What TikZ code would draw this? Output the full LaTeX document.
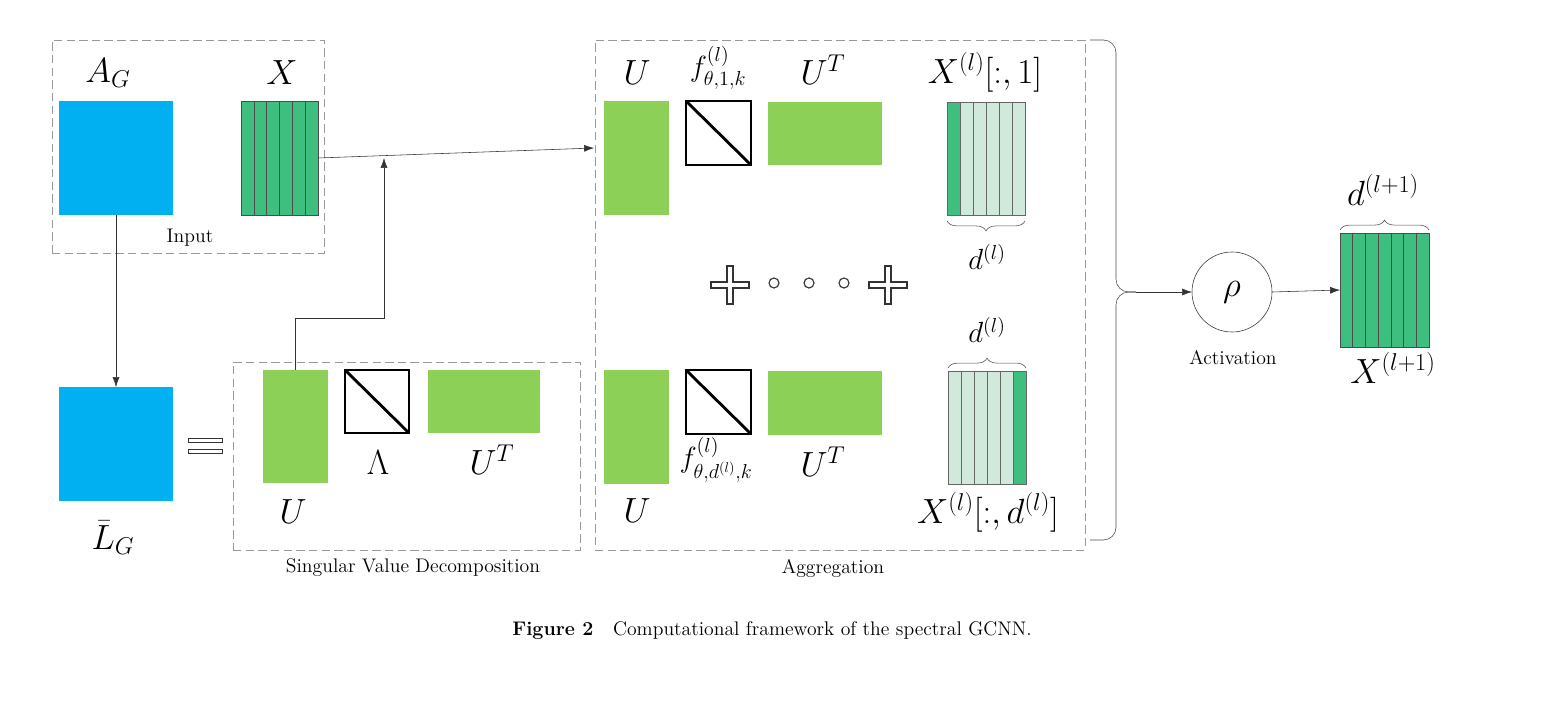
\documentclass[tikz,border=0pt]{standalone}
\usepackage{amsmath}
\usetikzlibrary{decorations.pathreplacing,calc,arrows.meta}
\definecolor{cblue}{HTML}{00B0F0}
\definecolor{cgreen}{HTML}{8DD058}
\definecolor{dgreen}{HTML}{3FBF7F}
\definecolor{lgreen}{HTML}{D0E9DA}
\begin{document}
\begin{tikzpicture}[x=0.025cm,y=-0.025cm,
  box/.style={draw=gray!80,dashed,dash pattern=on 6pt off 3pt,thin},
  blk/.style={inner sep=0,outer sep=0},
  ml/.style={font=\fontsize{27}{30}\selectfont},
  sl/.style={font=\fontsize{20}{23}\selectfont},
  tl/.style={font=\fontsize{14}{16}\selectfont},
  arr/.style={-{Latex[length=7pt,width=5pt]},draw=black!80,thin},
  brace/.style={decorate,decoration={brace,amplitude=7pt},draw=black!70,thin}]
\useasboundingbox (0,0) rectangle (1545,702);
% Input box
\node[box,blk,minimum width=272*0.025cm,minimum height=213*0.025cm,anchor=north west] (inbox) at (52,40) {};
\node[blk,fill=cblue,minimum width=114*0.025cm,minimum height=114*0.025cm,anchor=north west] (AG) at (59,101) {};
\node[ml] (AGl) at (108,73) {$A_G$};
\node[ml] (Xl) at (282,73) {$X$};
\node[blk,fill=dgreen,draw=black!70,minimum width=77*0.025cm,minimum height=114*0.025cm,anchor=north west] (X) at (241,101) {};
\foreach \i in {1,...,5} \draw[black!70] ($(X.north west)!\i/6!(X.north east)$) -- ($(X.south west)!\i/6!(X.south east)$);
\node[tl] (inl) at (190,238) {Input};
% L_G
\node[blk,fill=cblue,minimum width=114*0.025cm,minimum height=114*0.025cm,anchor=north west] (LG) at (59,387) {};
\node[ml] (LGl) at (113,538) {$\bar{L}_G$};
\draw[arr] (AG.south) -- (LG.north);
\node[blk,draw=black!80,minimum width=34*0.025cm,minimum height=4*0.025cm] (eq1) at (205,440) {};
\node[blk,draw=black!80,minimum width=34*0.025cm,minimum height=4*0.025cm] (eq2) at (205,451) {};
% SVD
\node[box,blk,minimum width=347*0.025cm,minimum height=188*0.025cm,anchor=north west] (svdbox) at (233,362) {};
\node[blk,fill=cgreen,minimum width=65*0.025cm,minimum height=113*0.025cm,anchor=north west] (sU) at (263,370) {};
\node[blk,draw=black,thick,minimum width=64*0.025cm,minimum height=63*0.025cm,anchor=north west] (sL) at (345,370) {};
\draw[line width=2pt] (sL.north west) -- (sL.south east);
\node[blk,fill=cgreen,minimum width=112*0.025cm,minimum height=63*0.025cm,anchor=north west] (sUT) at (428,370) {};
\node[ml] at (378,463) {$\Lambda$};
\node[ml] at (492,460) {$U^T$};
\node[ml] at (293,512) {$U$};
\node[tl] at (413,568) {Singular Value Decomposition};
% Aggregation
\node[box,blk,minimum width=490*0.025cm,minimum height=510*0.025cm,anchor=north west] (agbox) at (595,40) {};
\node[tl] at (833,568) {Aggregation};
\coordinate (aIn) at (594,148);
\draw[arr] (X.east) -- (aIn);
\coordinate (up) at (384,158);
\draw[arr] (sU.north) |- (384,318) -- (up);
% top row
\node[blk,fill=cgreen,minimum width=65*0.025cm,minimum height=114*0.025cm,anchor=north west] (tU) at (604,101) {};
\node[blk,draw=black,thick,minimum width=65*0.025cm,minimum height=64*0.025cm,anchor=north west] (tF) at (686,101) {};
\draw[line width=2pt] (tF.north west) -- (tF.south east);
\node[blk,fill=cgreen,minimum width=114*0.025cm,minimum height=63*0.025cm,anchor=north west] (tUT) at (768,102) {};
\node[blk,fill=lgreen,draw=black!60,minimum width=78*0.025cm,minimum height=113*0.025cm,anchor=north west] (tX) at (947,102) {};
\fill[dgreen] (tX.north west) rectangle ($(tX.south west)!1/6!(tX.south east)$);
\foreach \i in {1,...,5} \draw[black!60] ($(tX.north west)!\i/6!(tX.north east)$) -- ($(tX.south west)!\i/6!(tX.south east)$);
\draw[black!60] (tX.north west) rectangle (tX.south east);
\node[ml] at (637,73) {$U$};
\node[sl] at (718,68) {$f^{(l)}_{\theta,1,k}$};
\node[ml] at (823,70) {$U^T$};
\node[ml] at (985,72) {$X^{(l)}[:,1]$};
\draw[brace] (1025,221) -- (947,221);
\node[sl] at (987,257) {$d^{(l)}$};
% middle
\foreach \px in {730,888}{
  \draw[black!80,thick] (\px-3,285-19) -- (\px+3,285-19) -- (\px+3,285-3) -- (\px+19,285-3) -- (\px+19,285+3) -- (\px+3,285+3) -- (\px+3,285+19) -- (\px-3,285+19) -- (\px-3,285+3) -- (\px-19,285+3) -- (\px-19,285-3) -- (\px-3,285-3) -- cycle;}
\foreach \px in {774,809,844} \draw[black!80,thick] (\px,283) circle (5);
% bottom row
\node[blk,fill=cgreen,minimum width=65*0.025cm,minimum height=114*0.025cm,anchor=north west] (bU) at (604,370) {};
\node[blk,draw=black,thick,minimum width=65*0.025cm,minimum height=64*0.025cm,anchor=north west] (bF) at (686,370) {};
\draw[line width=2pt] (bF.north west) -- (bF.south east);
\node[blk,fill=cgreen,minimum width=114*0.025cm,minimum height=64*0.025cm,anchor=north west] (bUT) at (768,371) {};
\node[blk,fill=lgreen,draw=black!60,minimum width=78*0.025cm,minimum height=113*0.025cm,anchor=north west] (bX) at (948,371) {};
\fill[dgreen] ($(bX.north west)!5/6!(bX.north east)$) rectangle (bX.south east);
\foreach \i in {1,...,5} \draw[black!60] ($(bX.north west)!\i/6!(bX.north east)$) -- ($(bX.south west)!\i/6!(bX.south east)$);
\draw[black!60] (bX.north west) rectangle (bX.south east);
\node[ml] at (637,511) {$U$};
\node[sl] at (716,460) {$f^{(l)}_{\theta,d^{(l)},k}$};
\node[ml] at (823,462) {$U^T$};
\node[ml] at (988,512) {$X^{(l)}[:,d^{(l)}]$};
\draw[brace] (948,368) -- (1026,368);
\node[sl] at (987,330) {$d^{(l)}$};
% big brace
\draw[black!70,thin,rounded corners=9pt] (1090,40) -- (1116,40) -- (1116,292) -- (1136,292);
\draw[black!70,thin,rounded corners=9pt] (1090,540) -- (1116,540) -- (1116,292) -- (1136,292);
\coordinate (bt) at (1136,292);
\node[blk,draw=black!80,circle,minimum size=80*0.025cm] (rho) at (1232,292) {\fontsize{27}{30}\selectfont$\rho$};
\draw[arr] (bt) -- (rho.west);
\node[tl] at (1233,358) {Activation};
\node[blk,fill=dgreen,draw=black!70,minimum width=89*0.025cm,minimum height=114*0.025cm,anchor=north west] (out) at (1340,233) {};
\foreach \i in {1,...,6} \draw[black!70] ($(out.north west)!\i/7!(out.north east)$) -- ($(out.south west)!\i/7!(out.south east)$);
\draw[arr] (rho.east) -- (out.west);
\draw[brace] (1340,230) -- (1429,230);
\node[ml] at (1383,190) {$d^{(l+1)}$};
\node[ml] at (1393,368) {$X^{(l+1)}$};
\node[font=\fontsize{14}{16}\selectfont] at (772,631) {\textbf{Figure 2}\quad Computational framework of the spectral GCNN.};
\end{tikzpicture}
\end{document}
